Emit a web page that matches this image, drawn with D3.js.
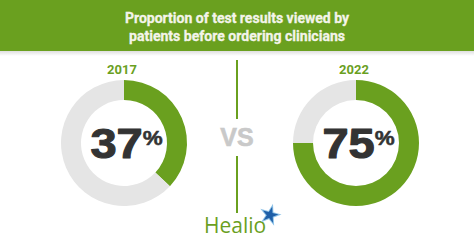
<!DOCTYPE html>
<html>
<head>
<meta charset="utf-8">
<script src="https://cdn.jsdelivr.net/npm/d3@7"></script>
<style>
  body { margin: 0; background: #fff; }
  svg { display: block; }
</style>
</head>
<body>
<svg id="chart" width="474" height="248"></svg>
<script>
// Chart data
const titleLines = ["Proportion of test results viewed by", "patients before ordering clinicians"];
const years = ["2017", "2022"];
const shares = [37, 75];

const width = 474, height = 248;
const green = "#6aa01f";
const ringGrey = "#e5e5e5";

const svg = d3.select("#chart");

// header band + soft shadow under it
const defs = svg.append("defs");
const shadow = defs.append("linearGradient")
    .attr("id", "shadow").attr("x1", 0).attr("y1", 0).attr("x2", 0).attr("y2", 1);
shadow.append("stop").attr("offset", "0%").attr("stop-color", "#d8d8d8");
shadow.append("stop").attr("offset", "100%").attr("stop-color", "#ffffff");

svg.append("rect").attr("x", 0).attr("y", 50).attr("width", width).attr("height", 6)
    .attr("fill", "url(#shadow)");
svg.append("rect").attr("x", 0).attr("y", 0).attr("width", width).attr("height", 51)
    .attr("fill", green);

const titleLen = [224, 216];
svg.append("g").selectAll("text")
    .data(titleLines)
    .join("text")
    .attr("x", width / 2)
    .attr("y", (d, i) => 23 + i * 18)
    .attr("text-anchor", "middle")
    .attr("textLength", (d, i) => titleLen[i])
    .attr("lengthAdjust", "spacingAndGlyphs")
    .style("font-family", "Roboto, sans-serif")
    .style("font-weight", "bold")
    .style("font-size", "14.5px")
    .attr("fill", "#f4f4ea")
    .attr("stroke", "#f4f4ea")
    .attr("stroke-width", 0.3)
    .text(d => d);

// position scale for the two donuts
const x = d3.scalePoint().domain(years).range([124, 356]);
const cy = 143;
const outerR = 63, innerR = 43;

const pie = d3.pie().sort(null).value(d => d);
const arc = d3.arc().innerRadius(innerR).outerRadius(outerR);

years.forEach((year, i) => {
    const g = svg.append("g").attr("transform", `translate(${x(year)},${cy})`);

    g.selectAll("path")
        .data(pie([shares[i], 100 - shares[i]]))
        .join("path")
        .attr("d", arc)
        .attr("fill", (d, j) => j === 0 ? green : ringGrey);

    // year label above
    g.append("text")
        .attr("x", -2)
        .attr("y", -69)
        .attr("text-anchor", "middle")
        .style("font-family", "Roboto, sans-serif")
        .style("font-weight", "bold")
        .style("font-size", "13px")
        .attr("fill", green)
        .text(year);

    // big percentage
    const t = g.append("g").attr("transform", "translate(2.5,15) scale(1.12,1)")
        .append("text")
        .attr("text-anchor", "middle")
        .style("font-family", "'Liberation Sans', Arial, sans-serif")
        .style("font-weight", "bold")
        .attr("fill", "#333333")
        .attr("stroke", "#333333")
        .attr("stroke-width", 1.1)
        .attr("stroke-linejoin", "round");
    t.append("tspan").style("font-size", "42px").text(shares[i]);
    t.append("tspan").style("font-size", "20px").attr("dy", -13)
        .attr("stroke-width", 0.5).text("%");
});

// divider line with VS
const midX = width / 2;
svg.append("line").attr("x1", midX).attr("x2", midX).attr("y1", 60).attr("y2", 119)
    .attr("stroke", green).attr("stroke-width", 2);
svg.append("line").attr("x1", midX).attr("x2", midX).attr("y1", 156).attr("y2", 213)
    .attr("stroke", green).attr("stroke-width", 2);
svg.append("text")
    .attr("x", midX)
    .attr("y", 146)
    .attr("text-anchor", "middle")
    .style("font-family", "'Liberation Sans', Arial, sans-serif")
    .style("font-weight", "bold")
    .style("font-size", "25px")
    .attr("fill", "#c9c9c9")
    .attr("stroke", "#c9c9c9")
    .attr("stroke-width", 0.6)
    .text("VS");

// Healio logo
svg.append("text")
    .attr("x", 204)
    .attr("y", 233)
    .style("font-family", "'Open Sans', sans-serif")
    .style("font-size", "21px")
    .attr("fill", green)
    .text("Healio");

const star = d3.symbol().type(d3.symbolStar);
svg.append("path")
    .attr("d", star.size(150)())
    .attr("transform", "translate(270,215) rotate(15)")
    .attr("fill", "#8fc3e8");
svg.append("path")
    .attr("d", star.size(80)())
    .attr("transform", "translate(270,215) rotate(15)")
    .attr("fill", "#1f5fa8");
</script>
</body>
</html>
